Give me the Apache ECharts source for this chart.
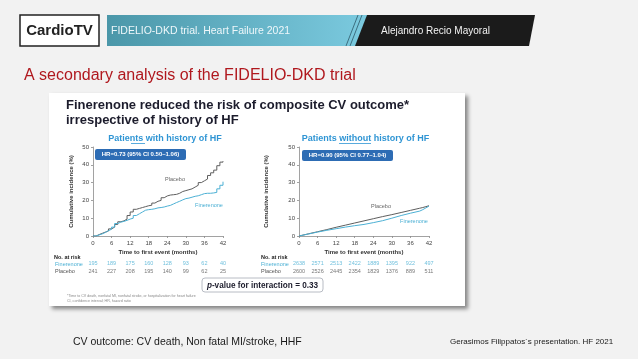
<!DOCTYPE html>
<html><head><meta charset="utf-8">
<script src="https://cdn.jsdelivr.net/npm/echarts@6/dist/echarts.min.js"></script>
<style>html,body{margin:0;padding:0;background:#f2f2f2}#c{width:638px;height:359px}</style>
</head><body><div id="c"></div>
<script>
// ---- data ----
const riskMonths = [0, 6, 12, 18, 24, 30, 36, 42];
const xTicks = [0, 6, 12, 18, 24, 30, 36, 42];
const yTicks = [0, 10, 20, 30, 40, 50];

const withHF_months      = [0,1,2,3,4,5,6,7,8,9,10,11,12,13,14,15,16,17,18,19,20,21,22,23,24,25,26,27,28,29,30,31,32,33,34,35,36,37,38,39,40,41,42];
const withHF_placebo     = [0,0.8,1.5,2.2,2.8,4,5,6.5,8,8.5,9.5,11.5,13.5,15,15.5,16,16.5,17,17.3,18.5,19.5,20,21.5,22.5,23,23.2,23.4,24,25,25.5,26,26.5,27.5,28.5,30,31,32,34,35.5,37,39.5,41.5,42];
const withHF_finerenone  = [0,0.6,1.2,2,3,3.8,5,7,7.8,8.2,8.8,9.5,10,11.5,12.5,13.5,14.5,14.8,15,15.3,15.8,16,16.3,16.8,17.2,18,18.8,19.5,20.3,21,21.3,21.8,22.3,22.6,23.2,23.8,24,24,24.2,24.5,26.5,28.5,30.5];

const withoutHF_months     = [0,3,6,9,12,15,18,21,24,27,30,33,36,39,40,41,42];
const withoutHF_placebo    = [0,1.2,2.4,3.6,4.9,6.1,7.3,8.5,9.7,10.9,12,13.2,14.4,15.6,16,16.5,17];
const withoutHF_finerenone = [0,1.1,2.2,3.2,4.1,5,5.8,6.5,7.5,8.6,10,11.5,12.8,14,14.8,15.8,16.8];

const riskWithHF_finerenone    = [195, 189, 175, 160, 128, 93, 62, 40];
const riskWithHF_placebo       = [241, 227, 208, 195, 140, 99, 62, 25];
const riskWithoutHF_finerenone = [2638, 2571, 2513, 2422, 1889, 1395, 922, 497];
const riskWithoutHF_placebo    = [2600, 2526, 2445, 2354, 1829, 1376, 889, 511];

// ---- styles ----
const FONT = "'Liberation Sans', Arial, sans-serif";
const C_PLA = '#5e5e5e';
const C_FIN = '#4cb0d4';
const C_SUB = '#2f95d4';
const C_HR = '#2d6cb4';

const chart = echarts.init(document.getElementById('c'), null, {renderer: 'canvas'});

function zip(t, v) { return t.map((x, i) => [x, v[i]]); }

function xAx(grid, show) {
  return {
    gridIndex: grid, type: 'value', min: 0, max: 42, interval: 6, show: show,
    axisLine: {lineStyle: {color: '#8a8a8a', width: 0.8}},
    axisTick: {length: 2, lineStyle: {color: '#8a8a8a', width: 0.8}},
    axisLabel: {fontSize: 6, color: '#444', margin: 4, fontFamily: FONT},
    splitLine: {show: false},
    name: show ? 'Time to first event (months)' : '', nameLocation: 'middle', nameGap: 13,
    nameTextStyle: {fontSize: 6, fontWeight: 'bold', color: '#333', fontFamily: FONT}
  };
}
function yAx(grid, gap) {
  return {
    gridIndex: grid, type: 'value', min: 0, max: 50, interval: 10,
    axisLine: {show: true, lineStyle: {color: '#8a8a8a', width: 0.8}},
    axisTick: {show: true, length: 2, lineStyle: {color: '#8a8a8a', width: 0.8}},
    axisLabel: {fontSize: 6, color: '#444', margin: 4, fontFamily: FONT},
    splitLine: {show: false},
    name: 'Cumulative incidence (%)', nameLocation: 'middle', nameGap: gap, nameRotate: 90,
    nameTextStyle: {fontSize: 6, fontWeight: 'bold', color: '#333', fontFamily: FONT}
  };
}
function tblY(grid) {
  return {gridIndex: grid, type: 'category', data: ['Finerenone', 'Placebo'], inverse: true, show: false};
}
function riskSeries(xi, yi, row, vals, color) {
  return {
    type: 'scatter', xAxisIndex: xi, yAxisIndex: yi, symbolSize: 1, silent: true,
    itemStyle: {color: 'rgba(0,0,0,0)'},
    data: riskMonths.map((m, i) => [m, row, vals[i]]),
    label: {show: true, position: 'inside', formatter: p => p.value[2], fontSize: 5.5, color: color, fontFamily: FONT}
  };
}
function line(xi, yi, data, color, step) {
  return {type: 'line', xAxisIndex: xi, yAxisIndex: yi, data: data, step: step, symbol: 'none',
    lineStyle: {color: color, width: 1}, silent: true, z: 5};
}
function txt(x, y, s, o) {
  return {type: 'text', x: x, y: y, silent: true, z: 20,
    style: Object.assign({text: s, fontFamily: FONT, fill: '#222', fontSize: 8, textVerticalAlign: 'middle', textAlign: 'left'}, o || {})};
}

const graphics = [
  // header
  {type: 'rect', shape: {x: 20, y: 15, width: 79, height: 31}, style: {fill: '#fff', stroke: '#222', lineWidth: 1.5}, z: 1},
  txt(59.5, 30.5, 'CardioTV', {fontSize: 15, fontWeight: 'bold', textAlign: 'center', fill: '#222'}),
  {type: 'polygon', shape: {points: [[107, 15], [372, 15], [360, 46], [107, 46]]}, z: 1,
    style: {fill: new echarts.graphic.LinearGradient(0, 0, 1, 0, [{offset: 0, color: '#4b97a9'}, {offset: 1, color: '#7ccbe0'}])}},
  {type: 'polygon', shape: {points: [[367, 15], [535, 15], [529, 46], [355, 46]]}, style: {fill: '#1b1b1b'}, z: 2},
  {type: 'line', shape: {x1: 362, y1: 15, x2: 350, y2: 46}, style: {stroke: '#3d6f80', lineWidth: 1}, z: 2},
  {type: 'line', shape: {x1: 358, y1: 15, x2: 346, y2: 46}, style: {stroke: '#3d6f80', lineWidth: 1}, z: 2},
  txt(111, 31, 'FIDELIO-DKD trial. Heart Failure 2021', {fontSize: 10.5, fill: '#eef7fa'}),
  txt(381, 31, 'Alejandro Recio Mayoral', {fontSize: 10, fill: '#f2f2f2'}),
  // slide title
  txt(24, 76, 'A secondary analysis of the FIDELIO-DKD trial', {fontSize: 16, fill: '#b0181e'}),
  // panel
  {type: 'rect', shape: {x: 49, y: 93, width: 416, height: 213}, z: 0,
    style: {fill: '#fff', shadowBlur: 4, shadowOffsetX: 3, shadowOffsetY: 3, shadowColor: 'rgba(0,0,0,0.45)'}},
  txt(66, 105, 'Finerenone reduced the risk of composite CV outcome*', {fontSize: 13, fontWeight: 'bold', fill: '#1c1c2c'}),
  txt(66, 120, 'irrespective of history of HF', {fontSize: 13, fontWeight: 'bold', fill: '#1c1c2c'}),
  txt(165, 139, 'Patients with history of HF', {fontSize: 9, fontWeight: 'bold', fill: C_SUB, textAlign: 'center'}),
  {type: 'line', shape: {x1: 131, y1: 143.5, x2: 145, y2: 143.5}, style: {stroke: C_SUB, lineWidth: 0.8}, z: 20},
  txt(365.5, 139, 'Patients without history of HF', {fontSize: 9, fontWeight: 'bold', fill: C_SUB, textAlign: 'center'}),
  {type: 'line', shape: {x1: 339, y1: 143.5, x2: 371, y2: 143.5}, style: {stroke: C_SUB, lineWidth: 0.8}, z: 20},
  // HR boxes
  {type: 'rect', shape: {x: 95, y: 149, width: 91, height: 11, r: 2}, style: {fill: C_HR}, z: 10},
  txt(140.5, 154.7, 'HR=0.73 (95% CI 0.50–1.06)', {fontSize: 6, fontWeight: 'bold', fill: '#fff', textAlign: 'center'}),
  {type: 'rect', shape: {x: 302, y: 150, width: 91, height: 11, r: 2}, style: {fill: C_HR}, z: 10},
  txt(347.5, 155.7, 'HR=0.90 (95% CI 0.77–1.04)', {fontSize: 6, fontWeight: 'bold', fill: '#fff', textAlign: 'center'}),
  // curve labels
  txt(175, 179, 'Placebo', {fontSize: 5.5, fill: '#666', textAlign: 'center'}),
  txt(209, 205, 'Finerenone', {fontSize: 5.5, fill: C_FIN, textAlign: 'center'}),
  txt(381, 206, 'Placebo', {fontSize: 5.5, fill: '#666', textAlign: 'center'}),
  txt(414, 221, 'Finerenone', {fontSize: 5.5, fill: C_FIN, textAlign: 'center'}),
  // risk table labels
  txt(54, 257, 'No. at risk', {fontSize: 5.5, fontWeight: 'bold', fill: '#222'}),
  txt(55, 264, 'Finerenone', {fontSize: 5.5, fill: C_FIN}),
  txt(55, 271.3, 'Placebo', {fontSize: 5.5, fill: '#555'}),
  txt(261, 257, 'No. at risk', {fontSize: 5.5, fontWeight: 'bold', fill: '#222'}),
  txt(261, 264, 'Finerenone', {fontSize: 5.5, fill: C_FIN}),
  txt(261, 271.3, 'Placebo', {fontSize: 5.5, fill: '#555'}),
  // p-value box
  {type: 'rect', shape: {x: 202, y: 278, width: 121, height: 14, r: 3}, style: {fill: '#fff', stroke: '#b8bcc4', lineWidth: 1}, z: 10},
  {type: 'text', x: 262.5, y: 285.3, z: 20, silent: true, style: {
    text: '{i|p}{b|-value for interaction = 0.33}', textAlign: 'center', textVerticalAlign: 'middle',
    rich: {i: {fontSize: 8.2, fontWeight: 'bold', fontStyle: 'italic', fill: '#1c1c2c', fontFamily: FONT},
           b: {fontSize: 8.2, fontWeight: 'bold', fill: '#1c1c2c', fontFamily: FONT}}}},
  // footnotes
  txt(67, 296, '*Time to CV death, nonfatal MI, nonfatal stroke, or hospitalization for heart failure', {fontSize: 3.6, fill: '#888'}),
  txt(67, 300.5, 'CI, confidence interval; HR, hazard ratio', {fontSize: 3.6, fill: '#888'}),
  // footer
  txt(73, 342, 'CV outcome: CV death, Non fatal MI/stroke, HHF', {fontSize: 10.5, fill: '#1a1a1a'}),
  txt(450, 342, 'Gerasimos Filippatos´s presentation. HF 2021', {fontSize: 8, fill: '#1a1a1a'})
];

chart.setOption({
  animation: false,
  backgroundColor: '#f2f2f2',
  textStyle: {fontFamily: FONT},
  grid: [
    {left: 93, top: 147, width: 130, height: 89},
    {left: 299, top: 147, width: 130, height: 89},
    {left: 93, top: 260, width: 130, height: 15},
    {left: 299, top: 260, width: 130, height: 15}
  ],
  xAxis: [xAx(0, true), xAx(1, true), xAx(2, false), xAx(3, false)],
  yAxis: [yAx(0, 19), yAx(1, 30), tblY(2), tblY(3)],
  series: [
    line(0, 0, zip(withHF_months, withHF_placebo), C_PLA, 'end'),
    line(0, 0, zip(withHF_months, withHF_finerenone), C_FIN, 'end'),
    line(1, 1, zip(withoutHF_months, withoutHF_placebo), C_PLA, false),
    line(1, 1, zip(withoutHF_months, withoutHF_finerenone), C_FIN, false),
    riskSeries(2, 2, 'Finerenone', riskWithHF_finerenone, C_FIN),
    riskSeries(2, 2, 'Placebo', riskWithHF_placebo, '#555'),
    riskSeries(3, 3, 'Finerenone', riskWithoutHF_finerenone, C_FIN),
    riskSeries(3, 3, 'Placebo', riskWithoutHF_placebo, '#555')
  ],
  graphic: graphics
});
</script></body></html>
